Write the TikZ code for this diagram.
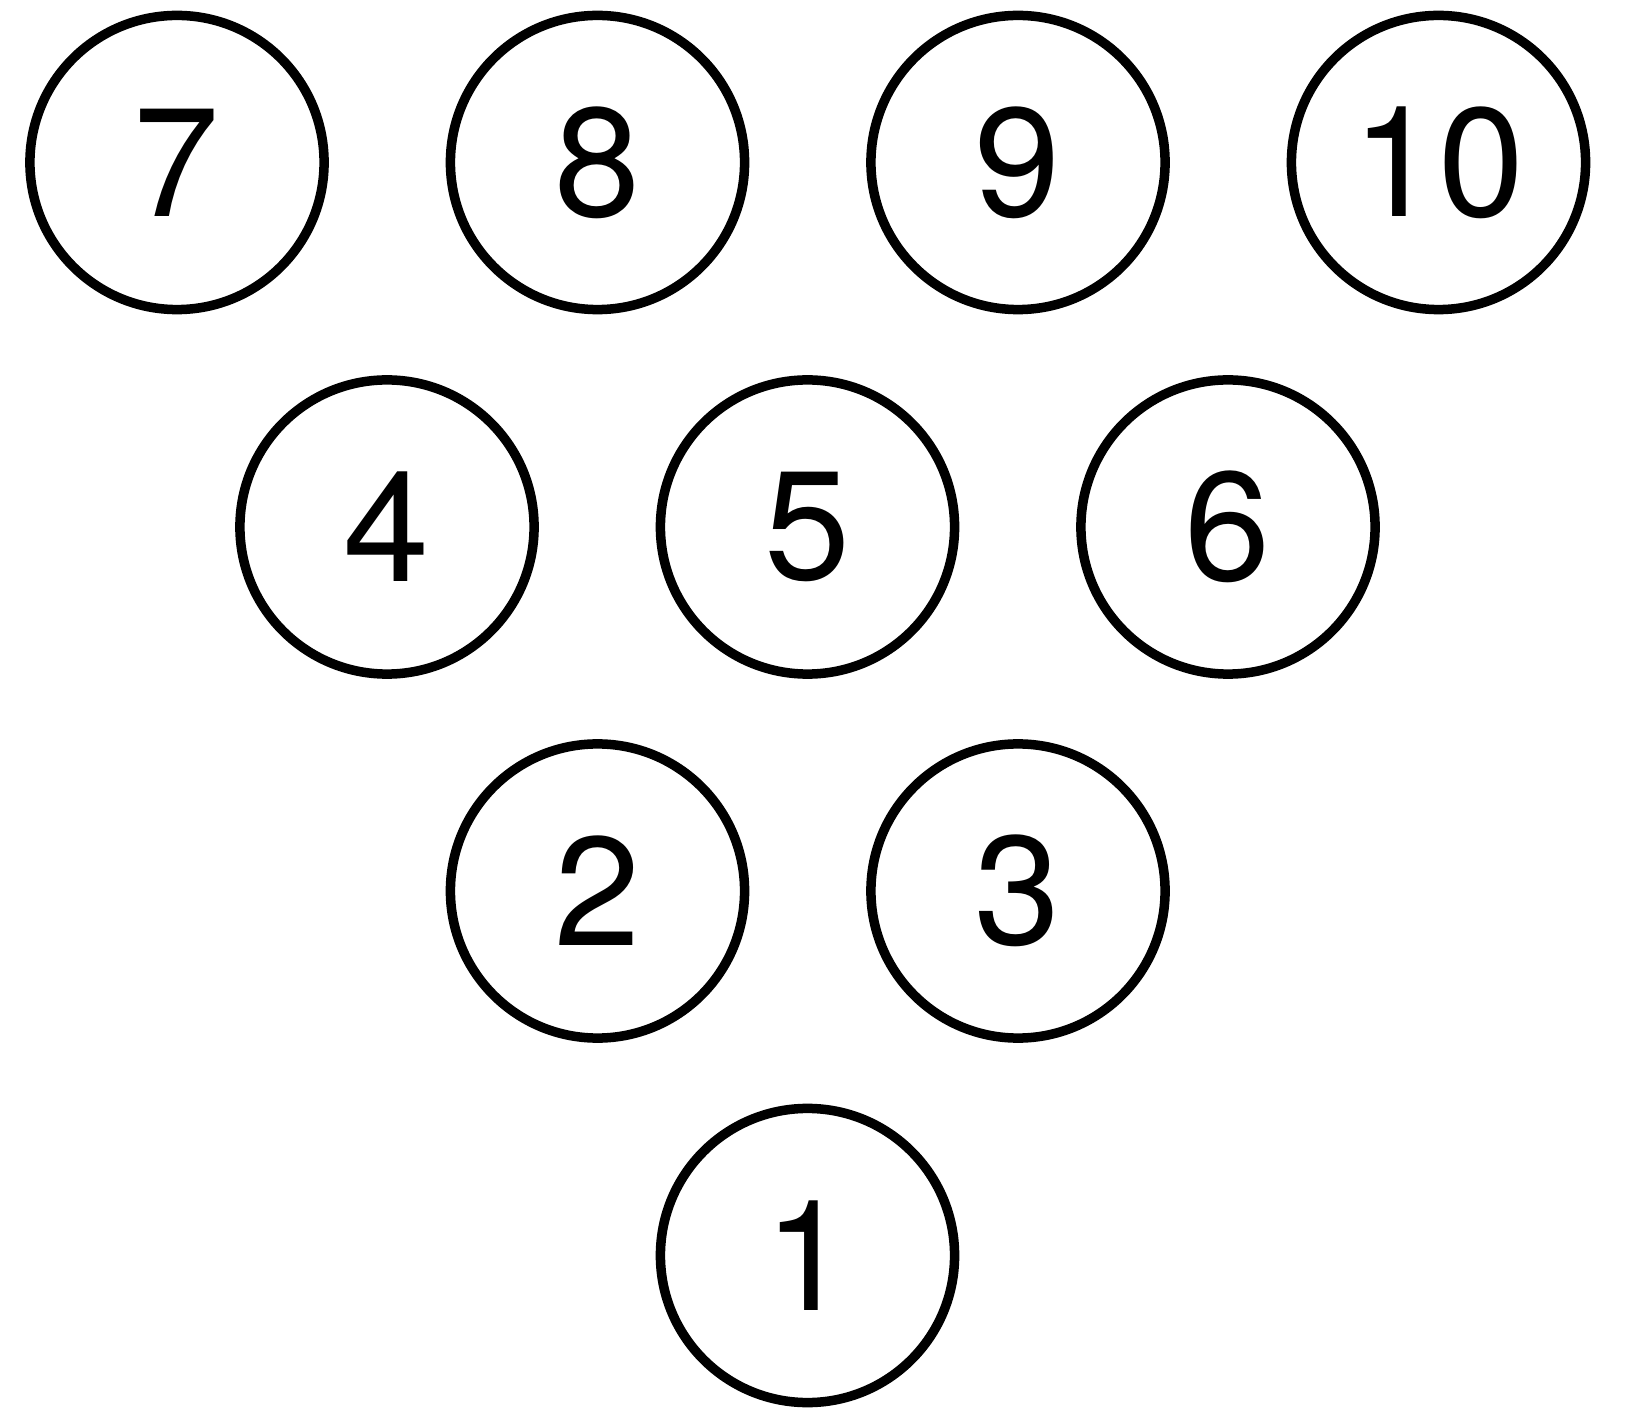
\documentclass[tikz,border=0pt]{standalone}
\usepackage{fontspec}
\setmainfont{TeX Gyre Heros}
\begin{document}
\begin{tikzpicture}[x=0.01cm,y=-0.01cm,
  pin/.style={draw=black,circle,line width=0.095cm,minimum size=2.94cm,inner sep=0pt,
    font=\fontsize{44}{44}\selectfont}]
\useasboundingbox (0,0) rectangle (1627,1422);
\node[pin] (p7) at (177,162.5) {7};
\node[pin] (p8) at (597.5,162.5) {8};
\node[pin] (p9) at (1018,162.5) {9};
\node[pin] (p10) at (1438.5,162.5) {10};
\node[pin] (p4) at (387,527) {4};
\node[pin] (p5) at (807.5,527) {5};
\node[pin] (p6) at (1228,527) {6};
\node[pin] (p2) at (597.5,891) {2};
\node[pin] (p3) at (1018,891) {3};
\node[pin] (p1) at (807.5,1255.5) {1};
\end{tikzpicture}
\end{document}
